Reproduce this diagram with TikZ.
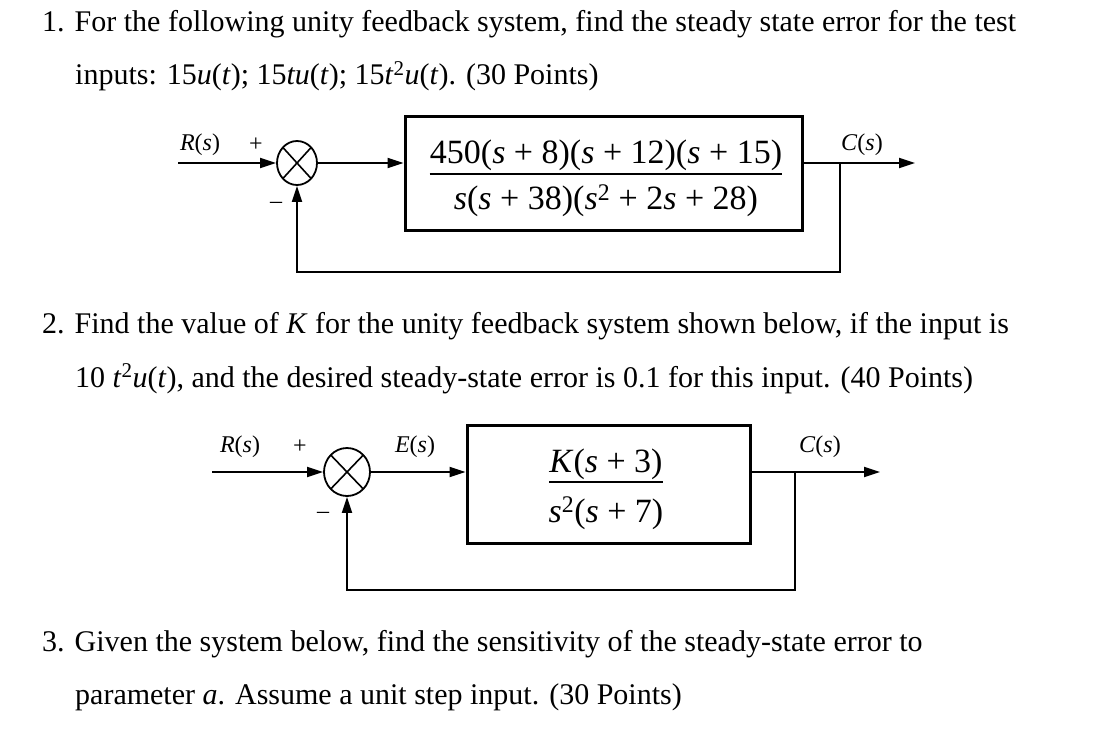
\documentclass[tikz,border=0pt]{standalone}
\usepackage{fontspec}
\setmainfont{Liberation Serif}
\usetikzlibrary{arrows.meta,shapes.geometric}
\newcommand{\vs}{\textit{s}}
\newcommand{\vi}[1]{\textit{#1}}
\begin{document}
\begin{tikzpicture}[x=1pt,y=-1pt,
  txt/.style={anchor=base west,inner sep=0pt,font=\fontsize{30}{34}\selectfont},
  lab/.style={inner sep=0pt,font=\fontsize{24}{28}\selectfont},
  fr/.style={inner sep=0pt,font=\fontsize{34}{38}\selectfont},
  blk/.style={draw,line width=3pt},
  sig/.style={line width=2pt},
  arr/.style={sig,-{Triangle[length=16pt,width=10pt]}},
  sum/.style={draw,line width=1.8pt,ellipse,minimum width=40pt,minimum height=44pt,inner sep=0pt,
    path picture={\draw[line width=1.6pt] (path picture bounding box.south west)--(path picture bounding box.north east)
      (path picture bounding box.north west)--(path picture bounding box.south east);}}]
\useasboundingbox (0,0) rectangle (1116,738);
\fill[white] (0,0) rectangle (1116,738);
% texts
\node[txt] (t1) at (42,32) {1. For the following unity feedback system, find the steady state error for the test};
\node[txt] (t2) at (75,85) {inputs: 15\vi{u}(\vi{t}); 15\vi{tu}(\vi{t}); 15\vi{t}\textsuperscript{2}\vi{u}(\vi{t}). (30 Points)};
\node[txt] (t3) at (42,333) {2. Find the value of \vi{K} for the unity feedback system shown below, if the input is};
\node[txt] (t4) at (75,387) {10 \vi{t}\textsuperscript{2}\vi{u}(\vi{t}), and the desired steady-state error is 0.1 for this input. (40 Points)};
\node[txt] (t5) at (42,651) {3. Given the system below, find the sensitivity of the steady-state error to};
\node[txt] (t6) at (75,704) {parameter \vi{a}. Assume a unit step input. (30 Points)};
% diagram 1
\coordinate (in1) at (178,163);
\node[sum] (s1) at (297,163) {};
\node[blk,minimum width=397pt,minimum height=113pt] (b1) at (603.5,173.5) {};
\node[fr,anchor=base] (n1) at (606,164) {450(\vs\ + 8)(\vs\ + 12)(\vs\ + 15)};
\node[fr,anchor=base] (d1) at (606,210) {\vs(\vs\ + 38)(\vs\textsuperscript{2} + 2\vs\ + 28)};
\draw[line width=1.5pt] (n1.west |- 0,174) -- (n1.east |- 0,174);
\coordinate (o1) at (915,163);
\coordinate (k1) at (840,163);
\draw[arr] (in1) -- (s1.west);
\draw[arr] (s1.east) -- (b1.west |- s1.east);
\draw[arr] (b1.east |- o1) -- (o1);
\draw[arr] (k1) -- (840,272) -- (297,272) -- (s1.south);
\node[lab] (r1) at (200,145) {\vi{R}(\vs)};
\node[lab] (p1) at (256,145) {+};
\node[lab] (m1) at (276,205) {–};
\node[lab] (c1) at (862,145) {\vi{C}(\vs)};
% diagram 2
\coordinate (in2) at (212,472);
\node[sum,minimum width=46pt,minimum height=48pt] (s2) at (347,472) {};
\node[blk,minimum width=283pt,minimum height=118pt] (b2) at (608.5,484) {};
\node[fr,anchor=base] (n2) at (606,472) {\vi{K}(\vs\ + 3)};
\node[fr,anchor=base] (d2) at (606,522) {\vs\textsuperscript{2}(\vs\ + 7)};
\draw[line width=1.5pt] (n2.west |- 0,482) -- (n2.east |- 0,482);
\coordinate (o2) at (880,472);
\coordinate (k2) at (795,472);
\draw[arr] (in2) -- (s2.west);
\draw[arr] (s2.east) -- (b2.west |- s2.east);
\draw[arr] (b2.east |- o2) -- (o2);
\draw[arr] (k2) -- (795,590) -- (347,590) -- (s2.south);
\node[lab] (r2) at (240,447) {\vi{R}(\vs)};
\node[lab] (p2) at (300,447) {+};
\node[lab] (m2) at (323,515) {–};
\node[lab] (e2) at (415,447) {\vi{E}(\vs)};
\node[lab] (c2) at (820,447) {\vi{C}(\vs)};
\end{tikzpicture}
\end{document}
